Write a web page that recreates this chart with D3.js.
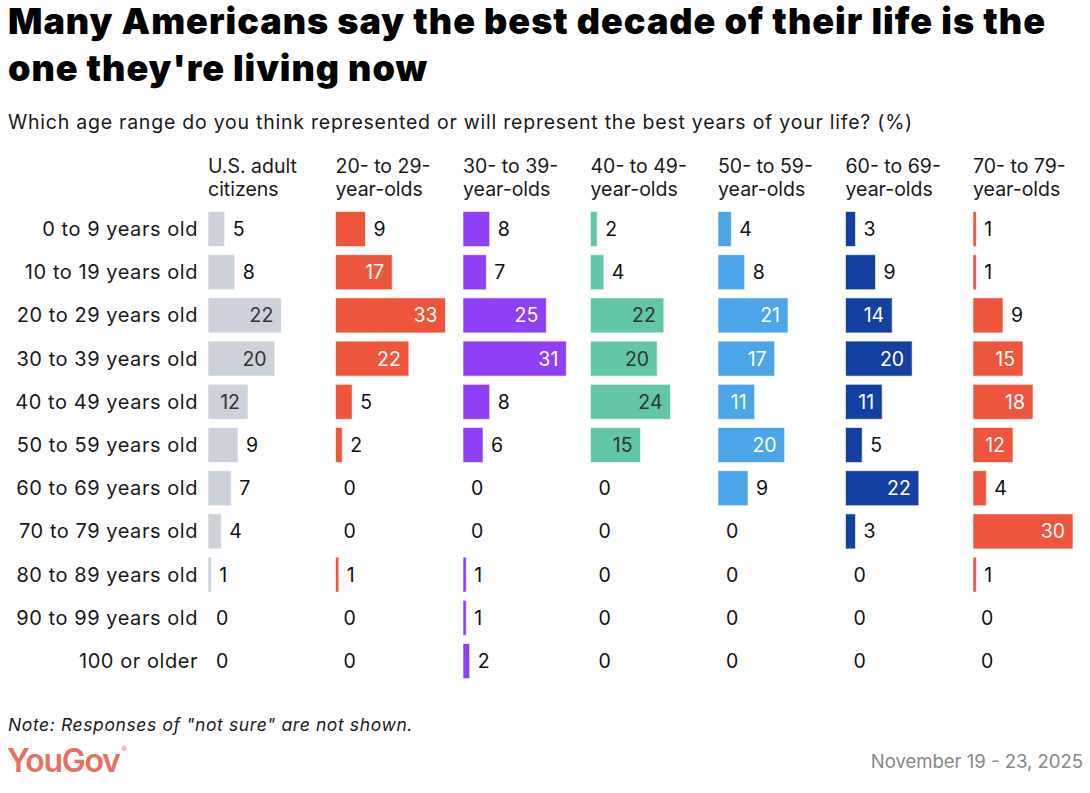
<!DOCTYPE html>
<html>
<head>
<meta charset="utf-8">
<script src="https://cdn.jsdelivr.net/npm/d3@7"></script>
<style>
  body { margin: 0; background: #fff; }
  text { font-family: Inter, "Noto Sans", sans-serif; }
</style>
</head>
<body>
<div id="chart"></div>
<script>
var ages = ["0 to 9 years old", "10 to 19 years old", "20 to 29 years old", "30 to 39 years old",
  "40 to 49 years old", "50 to 59 years old", "60 to 69 years old", "70 to 79 years old",
  "80 to 89 years old", "90 to 99 years old", "100 or older"];

var groups = ["U.S. adult|citizens", "20- to 29-|year-olds", "30- to 39-|year-olds", "40- to 49-|year-olds",
  "50- to 59-|year-olds", "60- to 69-|year-olds", "70- to 79-|year-olds"];

var colors = ["#cdd1da", "#ef553b", "#8f3ff6", "#62c6a9", "#4ba5e8", "#1241a3", "#ef553b"];

var usAdults = [5, 8, 22, 20, 12, 9, 7, 4, 1, 0, 0];
var age20s = [9, 17, 33, 22, 5, 2, 0, 0, 1, 0, 0];
var age30s = [8, 7, 25, 31, 8, 6, 0, 0, 1, 1, 2];
var age40s = [2, 4, 22, 20, 24, 15, 0, 0, 0, 0, 0];
var age50s = [4, 8, 21, 17, 11, 20, 9, 0, 0, 0, 0];
var age60s = [3, 9, 14, 20, 11, 5, 22, 3, 0, 0, 0];
var age70s = [1, 1, 9, 15, 18, 12, 4, 30, 1, 0, 0];

var series = [usAdults, age20s, age30s, age40s, age50s, age60s, age70s];

var W = 1090, H = 793;
var svg = d3.select("#chart").append("svg")
  .attr("width", W)
  .attr("height", H);

// stretch a line of text to a given width with letter spacing
function fit(sel, width) {
  var t = sel.node(), n = t.getNumberOfChars();
  var w = t.getComputedTextLength();
  sel.attr("letter-spacing", (width - w) / n);
}

// title + subtitle
fit(svg.append("text").attr("x", 8).attr("y", 34)
  .attr("font-size", 36).attr("font-weight", 900).attr("fill", "#000")
  .text("Many Americans say the best decade of their life is the"), 1038);
fit(svg.append("text").attr("x", 8).attr("y", 81)
  .attr("font-size", 36).attr("font-weight", 900).attr("fill", "#000")
  .text("one they're living now"), 420);
fit(svg.append("text").attr("x", 8).attr("y", 129)
  .attr("font-size", 19.5).attr("fill", "#1a1a1a")
  .text("Which age range do you think represented or will represent the best years of your life? (%)"), 905);

var col = d3.scaleBand()
  .domain(groups)
  .range([208, 208 + 7 * 127.5]);

var row = d3.scaleBand()
  .domain(ages)
  .range([207.4, 682.6])
  .paddingInner(0.19)
  .paddingOuter(0.095);

var x = d3.scaleLinear().domain([0, 33]).range([0, 110]);

// row labels
svg.append("g").selectAll("text")
  .data(ages).join("text")
  .attr("x", 198)
  .attr("y", function(d) { return row(d) + row.bandwidth() / 2; })
  .attr("dy", "0.35em")
  .attr("text-anchor", "end")
  .attr("font-size", 20)
  .attr("letter-spacing", 0.55)
  .attr("fill", "#1a1a1a")
  .text(function(d) { return d; });

// column headers
var heads = svg.append("g").selectAll("text")
  .data(groups).join("text")
  .attr("x", function(d) { return col(d); })
  .attr("y", 173)
  .attr("font-size", 19.5)
  .attr("fill", "#1a1a1a");
heads.selectAll("tspan")
  .data(function(d) { return d.split("|"); })
  .join("tspan")
  .attr("x", function() { return col(d3.select(this.parentNode).datum()); })
  .attr("dy", function(d, i) { return i ? 23 : 0; })
  .text(function(d) { return d; });

groups.forEach(function(g, gi) {
  var vals = series[gi];
  var dark = gi === 0 || gi === 3;
  var gg = svg.append("g").attr("transform", "translate(" + col(g) + ",0)");

  gg.selectAll("rect")
    .data(vals.map(function(v, i) { return {age: ages[i], value: v}; }).filter(function(d) { return d.value > 0; }))
    .join("rect")
    .attr("x", 0)
    .attr("y", function(d) { return row(d.age); })
    .attr("width", function(d) { return x(d.value); })
    .attr("height", row.bandwidth())
    .attr("fill", colors[gi])
    .attr("stroke", "#fff")
    .attr("stroke-opacity", 0.6)
    .attr("stroke-width", 1);

  gg.selectAll("text")
    .data(vals.map(function(v, i) { return {age: ages[i], value: v}; }))
    .join("text")
    .attr("x", function(d) { return d.value >= 10 ? x(d.value) - 8 : x(d.value) + 8; })
    .attr("y", function(d) { return row(d.age) + row.bandwidth() / 2; })
    .attr("dy", "0.36em")
    .attr("text-anchor", function(d) { return d.value >= 10 ? "end" : "start"; })
    .attr("font-size", 19.5)
    .attr("fill", function(d) {
      if (d.value < 10) return "#111";
      return dark ? "#333" : "#fff";
    })
    .text(function(d) { return d.value; });
});

// footer
fit(svg.append("text").attr("x", 8).attr("y", 731)
  .attr("font-size", 17.5).attr("font-style", "italic").attr("fill", "#1a1a1a")
  .text("Note: Responses of \"not sure\" are not shown."), 405);

var logo = svg.append("text").attr("x", 7).attr("y", 772)
  .attr("font-size", 32).attr("font-weight", 600).attr("fill", "#e9715f")
  .attr("letter-spacing", -1.3)
  .text("YouGov");
logo.append("tspan").attr("font-size", 8).attr("dy", -20).attr("dx", 2).attr("letter-spacing", 0).text("®");

svg.append("text").attr("x", 1083).attr("y", 768)
  .attr("text-anchor", "end")
  .attr("font-size", 18.5).attr("fill", "#888")
  .text("November 19 - 23, 2025");
</script>
</body>
</html>
